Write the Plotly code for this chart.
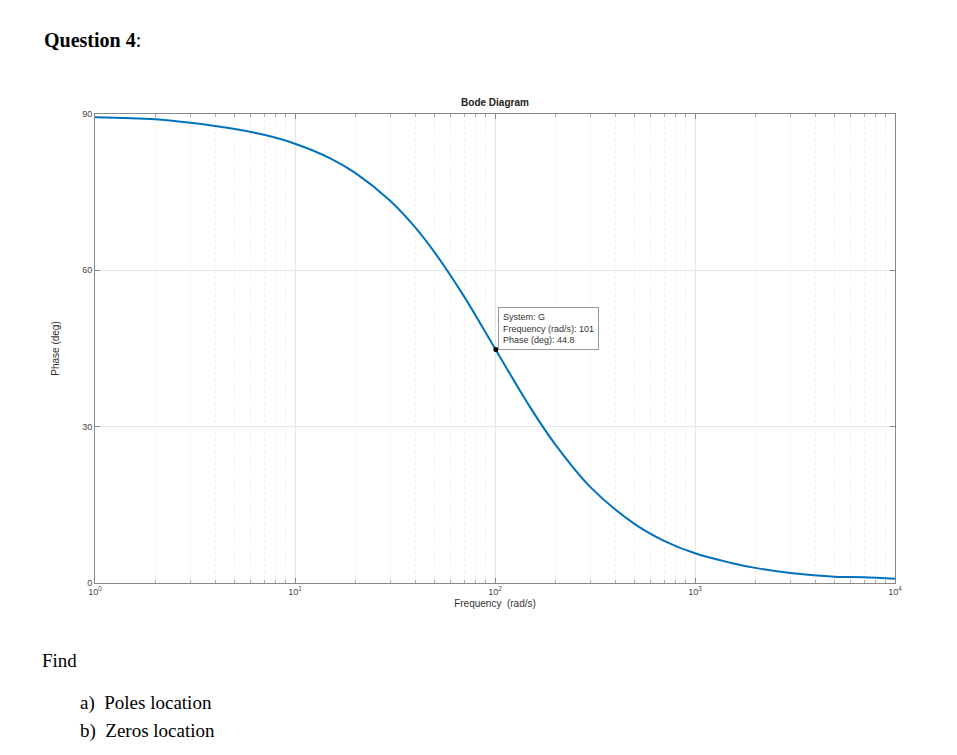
import plotly.graph_objects as go

freq = [1, 2, 3, 5, 7, 10, 15, 20, 30, 40, 50, 70, 100, 150, 200, 300, 500, 700, 1000, 1500, 2000, 3000, 5000, 7000, 10000]
phase = [89.4, 89.0, 88.3, 87.1, 86.0, 84.3, 81.5, 78.7, 73.3, 68.2, 63.4, 55.0, 45.0, 33.7, 26.6, 18.4, 11.3, 8.1, 5.7, 3.9, 2.9, 1.9, 1.2, 1.1, 0.8]
tip_freq = [101]
tip_phase = [44.8]
xtick_vals = [1, 10, 100, 1000, 10000]
xtick_text = ["10<sup>0</sup>", "10<sup>1</sup>", "10<sup>2</sup>", "10<sup>3</sup>", "10<sup>4</sup>"]
minor_vals = [m * d for d in [1, 10, 100, 1000] for m in range(2, 10)]
ytick_vals = [0, 30, 60, 90]

fig = go.Figure()
fig.add_trace(go.Scatter(x=freq, y=phase, mode="lines", line=dict(color="#0072BD", width=2, shape="spline"), hoverinfo="skip"))
fig.add_trace(go.Scatter(x=tip_freq, y=tip_phase, mode="markers", marker=dict(color="black", size=5), hoverinfo="skip"))

L, T, W, H = 87, 106, 800, 469
fig.update_layout(
    width=957, height=755, showlegend=False,
    paper_bgcolor="white", plot_bgcolor="white",
    margin=dict(l=L, r=957 - L - W, t=T, b=755 - T - H),
    font=dict(family="Liberation Sans, Arial", size=9, color="#444"),
    title=dict(text="<b>Bode Diagram</b>", x=0.5, xref="paper", y=1, yref="paper", yanchor="bottom", pad=dict(b=8), font=dict(size=10, color="#222")),
)
fig.update_xaxes(type="log", range=[0, 4], tickvals=xtick_vals, ticktext=xtick_text,
                 showgrid=True, gridcolor="#e6e6e6", showline=True, linecolor="#888", mirror="ticks",
                 ticks="inside", ticklen=5, tickcolor="#888",
                 minor=dict(tickvals=minor_vals, showgrid=True, gridcolor="#efefef", griddash="dot", ticks="inside", ticklen=3, tickcolor="#aaa"),
                 title=dict(text="Frequency  (rad/s)", font=dict(size=10, color="#333"), standoff=4), zeroline=False)
fig.update_yaxes(range=[0, 90], tickvals=ytick_vals, showgrid=True, gridcolor="#e6e6e6",
                 showline=True, linecolor="#888", mirror="ticks", ticks="inside", ticklen=5, tickcolor="#888",
                 title=dict(text="Phase (deg)", font=dict(size=10, color="#333"), standoff=20), zeroline=False)

fig.add_annotation(x=2.005, y=44.8, xref="x", yref="y", showarrow=False,
                   text="System: G<br>Frequency (rad/s): 101<br>Phase (deg): 44.8",
                   xanchor="left", yanchor="bottom", xshift=2, align="left",
                   bgcolor="white", bordercolor="#999", borderwidth=1, borderpad=4,
                   font=dict(size=9, color="#333"))

def px(x):
    return (x - 8 - L) / W

def py(y):
    return 1 - (y - 8 - T) / H

fig.add_annotation(x=px(42), y=py(40), xref="paper", yref="paper", text="<b>Question 4</b>:", showarrow=False,
                   xanchor="left", yanchor="middle",
                   font=dict(family="Liberation Serif, Times New Roman", size=20, color="black"))
serif = dict(family="Liberation Serif, Times New Roman", size=19, color="black")
for txt, x, y in [("Find", 40, 660), ("a)  Poles location", 78, 703), ("b)  Zeros location", 78, 731)]:
    fig.add_annotation(x=px(x), y=py(y), xref="paper", yref="paper", text=txt, showarrow=False,
                       xanchor="left", yanchor="middle", font=serif)

fig.write_html("out.html")
